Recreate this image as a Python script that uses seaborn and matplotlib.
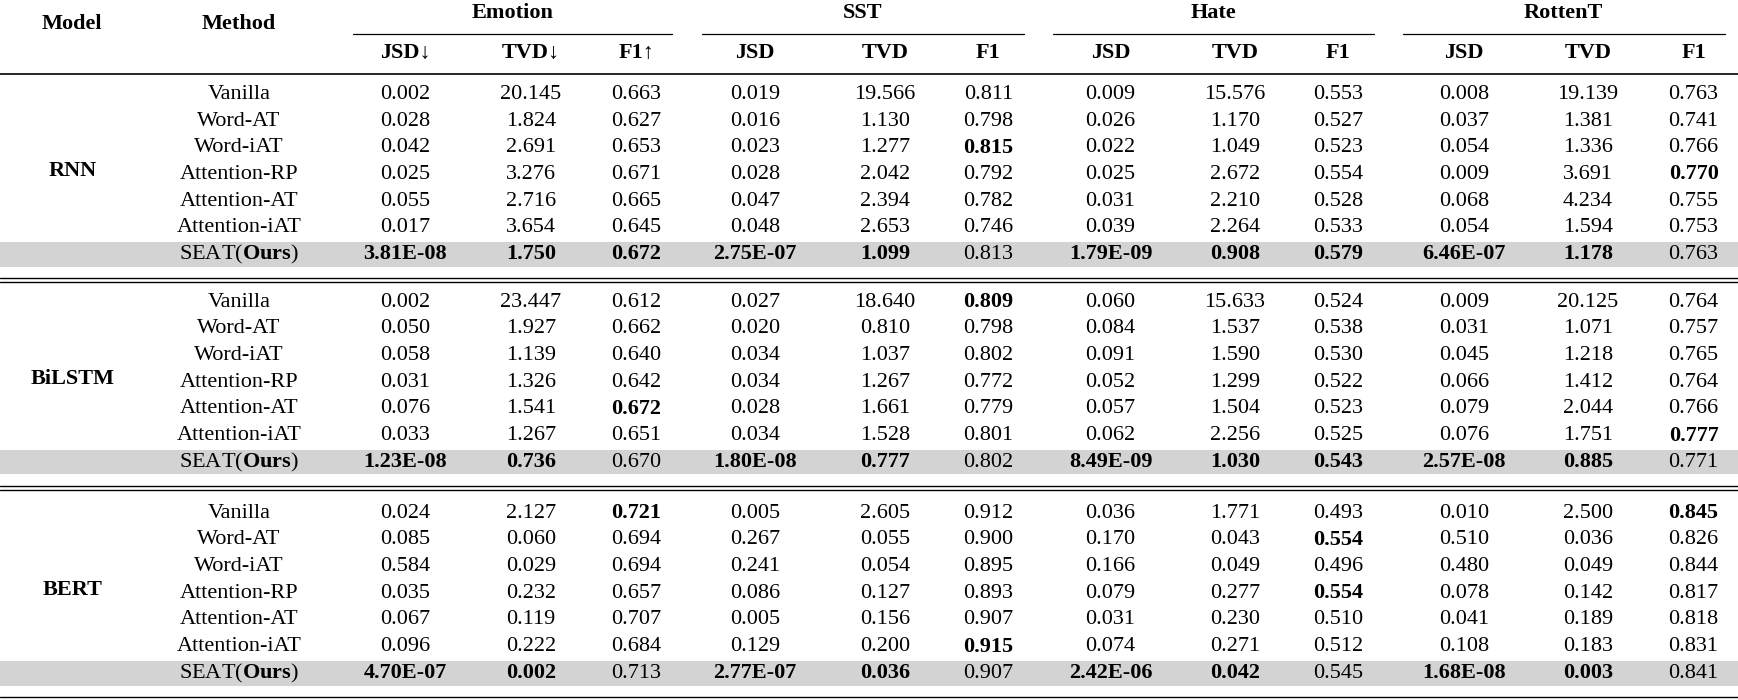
import matplotlib
matplotlib.use("Agg")
import matplotlib.pyplot as plt
import seaborn as sns

sns.set_theme(style="white")
plt.rcParams['font.family'] = ['Liberation Serif', 'DejaVu Serif']
plt.rcParams['text.color'] = 'black'
plt.rcParams['mathtext.fontset'] = 'custom'
plt.rcParams['mathtext.rm'] = 'Liberation Serif'
plt.rcParams['mathtext.bf'] = 'Liberation Serif:bold'

models = ["RNN", "BiLSTM", "BERT"]
methods = ["Vanilla", "Word-AT", "Word-iAT", "Attention-RP", "Attention-AT", "Attention-iAT", "SEAT($\\mathbf{Ours}$)"]
datasets = ["Emotion", "SST", "Hate", "RottenT"]
subheads = ["JSD↓", "TVD↓", "F1↑", "JSD", "TVD", "F1", "JSD", "TVD", "F1", "JSD", "TVD", "F1"]

rnn = [
    ["0.002", "20.145", "0.663", "0.019", "19.566", "0.811", "0.009", "15.576", "0.553", "0.008", "19.139", "0.763"],
    ["0.028", "1.824", "0.627", "0.016", "1.130", "0.798", "0.026", "1.170", "0.527", "0.037", "1.381", "0.741"],
    ["0.042", "2.691", "0.653", "0.023", "1.277", "0.815", "0.022", "1.049", "0.523", "0.054", "1.336", "0.766"],
    ["0.025", "3.276", "0.671", "0.028", "2.042", "0.792", "0.025", "2.672", "0.554", "0.009", "3.691", "0.770"],
    ["0.055", "2.716", "0.665", "0.047", "2.394", "0.782", "0.031", "2.210", "0.528", "0.068", "4.234", "0.755"],
    ["0.017", "3.654", "0.645", "0.048", "2.653", "0.746", "0.039", "2.264", "0.533", "0.054", "1.594", "0.753"],
    ["3.81E-08", "1.750", "0.672", "2.75E-07", "1.099", "0.813", "1.79E-09", "0.908", "0.579", "6.46E-07", "1.178", "0.763"],
]
bilstm = [
    ["0.002", "23.447", "0.612", "0.027", "18.640", "0.809", "0.060", "15.633", "0.524", "0.009", "20.125", "0.764"],
    ["0.050", "1.927", "0.662", "0.020", "0.810", "0.798", "0.084", "1.537", "0.538", "0.031", "1.071", "0.757"],
    ["0.058", "1.139", "0.640", "0.034", "1.037", "0.802", "0.091", "1.590", "0.530", "0.045", "1.218", "0.765"],
    ["0.031", "1.326", "0.642", "0.034", "1.267", "0.772", "0.052", "1.299", "0.522", "0.066", "1.412", "0.764"],
    ["0.076", "1.541", "0.672", "0.028", "1.661", "0.779", "0.057", "1.504", "0.523", "0.079", "2.044", "0.766"],
    ["0.033", "1.267", "0.651", "0.034", "1.528", "0.801", "0.062", "2.256", "0.525", "0.076", "1.751", "0.777"],
    ["1.23E-08", "0.736", "0.670", "1.80E-08", "0.777", "0.802", "8.49E-09", "1.030", "0.543", "2.57E-08", "0.885", "0.771"],
]
bert = [
    ["0.024", "2.127", "0.721", "0.005", "2.605", "0.912", "0.036", "1.771", "0.493", "0.010", "2.500", "0.845"],
    ["0.085", "0.060", "0.694", "0.267", "0.055", "0.900", "0.170", "0.043", "0.554", "0.510", "0.036", "0.826"],
    ["0.584", "0.029", "0.694", "0.241", "0.054", "0.895", "0.166", "0.049", "0.496", "0.480", "0.049", "0.844"],
    ["0.035", "0.232", "0.657", "0.086", "0.127", "0.893", "0.079", "0.277", "0.554", "0.078", "0.142", "0.817"],
    ["0.067", "0.119", "0.707", "0.005", "0.156", "0.907", "0.031", "0.230", "0.510", "0.041", "0.189", "0.818"],
    ["0.096", "0.222", "0.684", "0.129", "0.200", "0.915", "0.074", "0.271", "0.512", "0.108", "0.183", "0.831"],
    ["4.70E-07", "0.002", "0.713", "2.77E-07", "0.036", "0.907", "2.42E-06", "0.042", "0.545", "1.68E-08", "0.003", "0.841"],
]
# bold cells: (row, col) per model block
bold_rnn = [(2, 5), (3, 11), (6, 0), (6, 1), (6, 2), (6, 3), (6, 4), (6, 6), (6, 7), (6, 8), (6, 9), (6, 10)]
bold_bilstm = [(0, 5), (4, 2), (5, 11), (6, 0), (6, 1), (6, 3), (6, 4), (6, 6), (6, 7), (6, 8), (6, 9), (6, 10)]
bold_bert = [(0, 2), (0, 11), (1, 8), (3, 8), (5, 5), (6, 0), (6, 1), (6, 3), (6, 4), (6, 6), (6, 7), (6, 9), (6, 10)]

blocks = [rnn, bilstm, bert]
bolds = [bold_rnn, bold_bilstm, bold_bert]

W, H = 1565, 630
fig = plt.figure(figsize=(17.38, 7.0), dpi=100)
ax = fig.add_axes([0, 0, 1, 1])
ax.set_xlim(0, W)
ax.set_ylim(H, 0)
ax.axis("off")

fs = 16
col_x = [365, 478, 573, 680, 797, 890, 1000, 1112, 1205, 1318, 1430, 1525]
group_span = [(318, 605), (632, 922), (948, 1237), (1263, 1553)]
block_y0 = [85, 272, 462]
step = 24

ax.text(65, 22, "Model", ha="center", va="center", fontsize=fs, fontweight="bold")
ax.text(215, 22, "Method", ha="center", va="center", fontsize=fs, fontweight="bold")
for (a, b), name in zip(group_span, datasets):
    ax.text((a + b) / 2, 12, name, ha="center", va="center", fontsize=fs, fontweight="bold")
    ax.plot([a, b], [31, 31], color="black", lw=0.9)
for x, s in zip(col_x, subheads):
    ax.text(x, 48, s, ha="center", va="center", fontsize=fs, fontweight="bold",
            family=['Liberation Serif', 'DejaVu Serif'])
ax.plot([0, W], [67, 67], color="black", lw=1.2)

for bi, (model, data, bset) in enumerate(zip(models, blocks, bolds)):
    y0 = block_y0[bi]
    ys = [y0 + i * step for i in range(len(methods))]
    ax.add_patch(plt.Rectangle((0, ys[-1] - 11), W, 22, color="#d3d3d3", lw=0, zorder=0))
    ax.text(65, ys[3] - 3, model, ha="center", va="center", fontsize=fs, fontweight="bold")
    for ri, (m, row) in enumerate(zip(methods, data)):
        ax.text(215, ys[ri], m, ha="center", va="center", fontsize=fs)
        for ci, v in enumerate(row):
            ax.text(col_x[ci], ys[ri], v, ha="center", va="center", fontsize=fs,
                    fontweight="bold" if (ri, ci) in bset else "normal")
    yl = ys[-1] + 21
    ax.plot([0, W], [yl, yl], color="black", lw=1.0)
    ax.plot([0, W], [yl + 4, yl + 4], color="black", lw=1.0)

fig.savefig("out.png", dpi=100)
